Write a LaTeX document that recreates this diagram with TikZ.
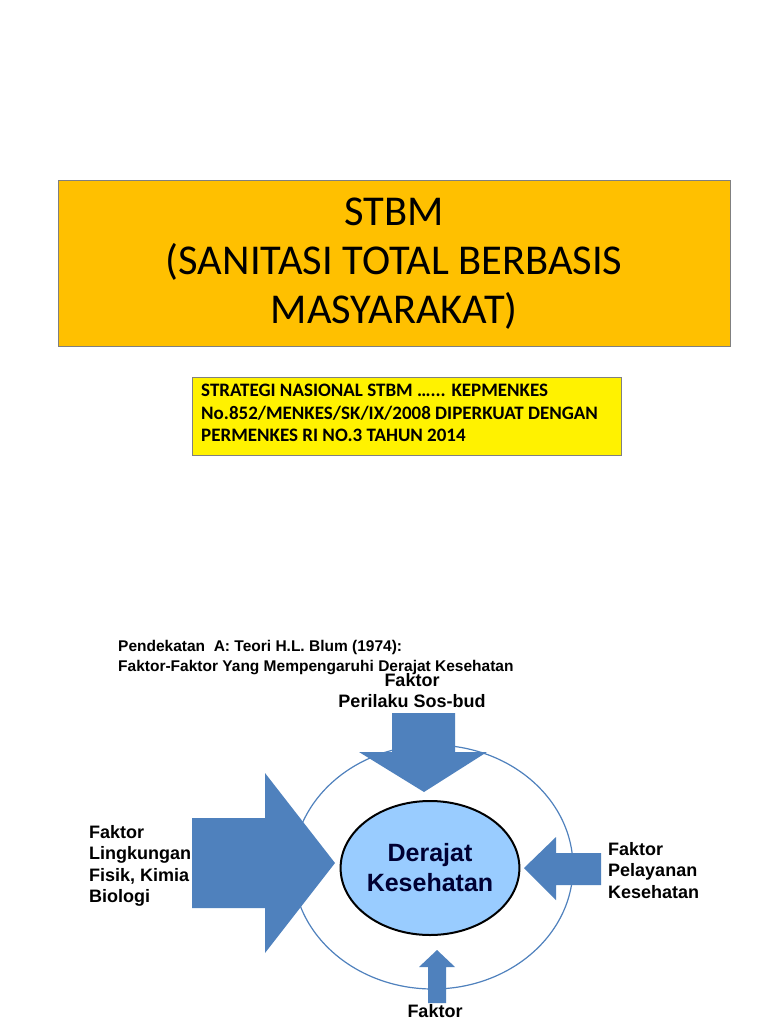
\documentclass[tikz,border=0pt]{standalone}
\usepackage{fontspec}
\usetikzlibrary{shapes.geometric}
\setmainfont{Carlito}
\newfontfamily\arial{Liberation Sans}
\begin{document}
\begin{tikzpicture}[x=1pt,y=-1pt,
  arr/.style={fill=arrblue,draw=none},
  lbl/.style={font=\arial\bfseries\fontsize{18}{21.5}\selectfont,align=left,anchor=north west,inner sep=0pt}]
\definecolor{orng}{HTML}{FFC000}
\definecolor{arrblue}{HTML}{4F81BD}
\definecolor{lblue}{HTML}{99CCFF}
\useasboundingbox (0,0) rectangle (768,1024);
\fill[white] (0,0) rectangle (768,1024);
\node[draw=gray,fill=orng,minimum width=672pt,minimum height=166pt,anchor=north west,inner sep=0pt,align=center,font=\fontsize{42.5}{49}\selectfont] (title) at (58,180) {STBM\\(SANITASI TOTAL BERBASIS\\MASYARAKAT)};
\node[draw=gray,fill=yellow,minimum width=429pt,minimum height=78pt,anchor=north west,inner sep=0pt] (sub) at (192,377) {};
\node[anchor=north west,inner sep=0pt,align=left,font=\bfseries\fontsize{19}{22.5}\selectfont] (subt) at (201,384) {STRATEGI NASIONAL STBM …... KEPMENKES\\No.852/MENKES/SK/IX/2008 DIPERKUAT DENGAN\\PERMENKES RI NO.3 TAHUN 2014};
\node[anchor=north west,inner sep=0pt,align=left,font=\arial\bfseries\fontsize{15.5}{20}\selectfont] (pend) at (118,640) {Pendekatan\ \ A: Teori H.L. Blum (1974):\\Faktor-Faktor Yang Mempengaruhi Derajat Kesehatan};
\node[lbl,anchor=north,align=center] (ltop) at (412,673) {Faktor\\Perilaku Sos-bud};
\node[lbl] (lleft) at (89,825) {Faktor\\Lingkungan\\Fisik, Kimia\\Biologi};
\draw[arrblue,line width=1.2pt] (433,867) ellipse [x radius=140,y radius=122];
\node[draw=black,line width=2pt,fill=lblue,ellipse,minimum width=156pt,minimum height=134pt,inner sep=0pt,align=center,font=\arial\bfseries\fontsize{25}{30}\selectfont,text=black!80!blue] (cen) at (430,868) {Derajat\\Kesehatan};
\fill[arr] (392,713) -- (455,713) -- (455,752) -- (487,752) -- (424,792) -- (359,752) -- (392,752) -- cycle;
\fill[arr] (192,818) -- (265,818) -- (265,773) -- (335,863) -- (265,953) -- (265,908) -- (192,908) -- cycle;
\fill[arr] (601,853) -- (556,853) -- (556,837) -- (524,868) -- (556,900) -- (556,885) -- (601,885) -- cycle;
\fill[arr] (428,1003) -- (428,967) -- (419,967) -- (437,950) -- (455,967) -- (446,967) -- (446,1003) -- cycle;
\node[lbl] (lright) at (608,842) {Faktor\\Pelayanan\\Kesehatan};
\node[lbl,anchor=north] (lbot) at (435,1004) {Faktor};
\end{tikzpicture}
\end{document}
